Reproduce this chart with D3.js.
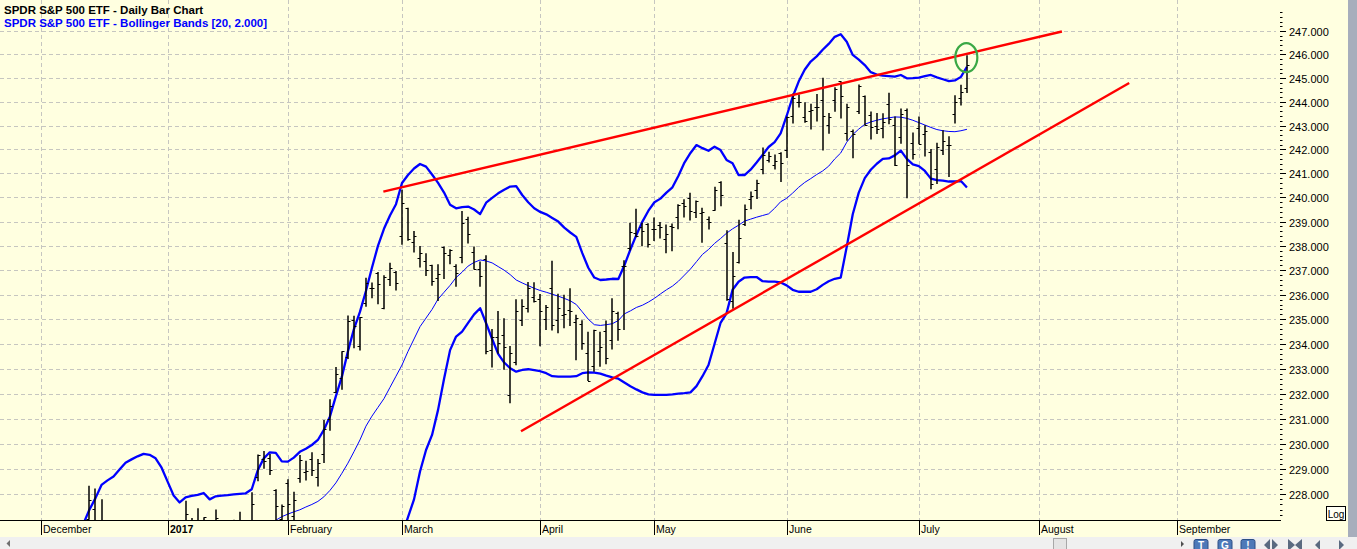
<!DOCTYPE html>
<html>
<head>
<meta charset="utf-8">
<script src="https://cdn.jsdelivr.net/npm/d3@7"></script>
<style>
  body { margin: 0; background: #f0f0f0; }
  svg { display: block; font-family: 'Liberation Sans', Arial, sans-serif; }
</style>
</head>
<body>
<div id="chart-area"></div>
<script>
// Values (SPY daily bars, 1 Dec 2016 - 14 Jul 2017)

// month labels on the date axis and the trading-day index where each month starts
let monthLabels = ['December', '2017', 'February', 'March', 'April', 'May', 'June', 'July', 'August', 'September']
let monthStart = [0, 21, 41, 60, 83, 102, 124, 146, 166, 189]

let yTicks = [228, 229, 230, 231, 232, 233, 234, 235, 236, 237, 238, 239, 240, 241, 242, 243, 244, 245, 246, 247]

let open = [
  220.73, 219.67, 220.65, 221.22, 221.52, 224.57, 225.41, 226.40, 227.02, 227.41, 226.16, 226.01, 225.25, 226.15, 226.25, 225.60, 225.43, 226.02, 226.57, 224.48, 224.73,
  225.04, 225.62, 226.27, 226.53, 226.91, 226.48, 226.36, 226.50, 226.73, 226.31, 226.54, 226.84, 226.70, 226.74, 226.40, 228.70, 229.40, 229.42, 228.17, 227.04,
  228.45, 227.16, 228.65, 228.87, 229.38, 228.69, 229.59, 231.00, 232.08, 232.63, 233.46, 234.96, 233.90, 235.65, 236.26, 236.89, 235.45, 236.63, 236.91,
  238.39, 239.56, 238.17, 237.50, 237.37, 237.20, 236.70, 237.97, 237.62, 237.18, 237.56, 239.11, 237.75, 237.03, 237.47, 233.77, 234.28, 234.38, 231.93, 233.27, 234.99, 235.47, 235.90,
  235.81, 235.00, 236.26, 234.96, 235.18, 235.36, 234.90, 234.80, 233.64, 233.11, 233.72, 234.52, 234.15, 235.25, 237.18, 237.91, 238.51, 238.77, 238.90,
  238.68, 238.84, 238.29, 238.83, 239.19, 239.75, 239.96, 239.39, 239.35, 239.09, 239.47, 240.62, 238.10, 235.73, 237.33, 238.90, 239.95, 240.32, 241.20, 241.54, 241.33, 241.84,
  241.97, 243.42, 243.99, 243.34, 243.60, 243.77, 244.08, 243.01, 244.09, 244.86, 242.68, 242.77, 243.59, 244.25, 243.45, 242.96, 242.91, 243.90, 243.04, 242.50, 243.66, 242.28,
  242.88, 242.63, 241.88, 241.17, 241.98, 242.20, 243.50, 244.14, 244.60
]
let high = [
  220.73, 220.25, 221.40, 221.74, 224.67, 225.70, 226.53, 226.96, 228.34, 228.23, 227.81, 226.08, 226.02, 226.57, 226.45, 225.74, 225.72, 226.73, 226.59, 224.89, 224.83,
  225.83, 226.75, 226.58, 227.75, 227.07, 227.45, 227.10, 226.75, 227.40, 226.78, 226.80, 227.00, 227.31, 226.81, 228.08, 229.57, 229.71, 229.59, 228.20, 227.60,
  228.59, 228.10, 229.55, 229.33, 229.66, 229.39, 230.95, 231.77, 233.07, 233.71, 235.15, 235.14, 235.09, 236.69, 236.50, 236.93, 236.79, 237.31, 236.97,
  240.32, 239.57, 238.61, 237.99, 237.70, 237.22, 237.24, 237.97, 237.86, 237.24, 239.44, 239.20, 237.97, 237.36, 237.61, 234.61, 235.34, 235.04, 233.92, 235.81, 235.81, 236.52, 236.51,
  236.03, 235.58, 237.39, 236.04, 236.00, 236.26, 235.18, 234.96, 234.49, 234.57, 234.49, 234.95, 235.85, 235.31, 237.41, 238.95, 239.53, 238.95, 238.93,
  239.17, 238.98, 238.88, 238.92, 239.72, 239.92, 240.19, 239.87, 239.57, 239.21, 240.44, 240.67, 238.64, 237.75, 239.08, 239.71, 240.24, 240.73, 242.08, 241.90, 241.79, 241.88,
  243.38, 244.35, 244.30, 243.98, 243.92, 244.33, 245.01, 243.53, 244.61, 244.87, 243.91, 242.83, 244.73, 244.26, 243.59, 243.53, 243.51, 244.38, 243.38, 243.72, 243.72, 242.71,
  243.38, 243.01, 242.02, 242.28, 242.80, 242.55, 244.27, 244.72, 245.97
]
let low = [
  219.15, 219.26, 220.42, 220.66, 221.38, 224.26, 225.37, 225.76, 227.00, 225.37, 225.89, 224.67, 225.08, 225.88, 225.77, 224.92, 225.21, 226.00, 224.27, 223.84, 222.73,
  223.88, 225.61, 225.48, 225.90, 226.42, 226.01, 225.59, 224.96, 226.69, 225.80, 225.73, 225.41, 225.97, 225.27, 226.27, 228.51, 229.01, 228.76, 226.41, 226.32,
  226.94, 226.82, 228.46, 228.54, 228.72, 228.31, 229.24, 230.52, 232.04, 232.16, 233.39, 233.83, 233.74, 235.51, 235.85, 235.61, 235.41, 236.35, 236.17,
  238.05, 238.21, 237.73, 237.11, 236.76, 236.36, 235.74, 236.64, 237.24, 236.32, 237.29, 238.10, 237.03, 236.32, 233.58, 233.05, 233.60, 232.96, 231.61, 233.14, 234.73, 235.27, 235.68,
  233.91, 234.56, 234.54, 234.43, 234.64, 234.73, 233.34, 233.77, 232.51, 232.88, 233.08, 233.18, 233.78, 234.13, 234.56, 237.81, 238.35, 237.98, 237.93,
  238.20, 238.30, 237.70, 237.78, 238.68, 239.17, 239.04, 239.15, 238.13, 238.67, 239.45, 239.63, 235.75, 235.43, 237.27, 238.82, 239.51, 239.93, 240.96, 241.45, 241.16, 240.64,
  241.64, 243.08, 243.76, 243.12, 242.83, 243.17, 241.95, 242.65, 243.58, 243.29, 242.36, 241.63, 243.48, 242.99, 242.41, 242.64, 242.47, 243.05, 241.31, 242.23, 239.96, 241.58,
  242.21, 241.70, 240.34, 240.56, 241.76, 240.85, 243.08, 243.84, 244.37
]
let close = [
  219.57, 219.68, 221.00, 221.70, 224.60, 225.15, 226.51, 226.25, 227.76, 225.88, 226.81, 225.04, 225.53, 226.40, 225.77, 225.38, 225.71, 226.27, 224.40, 224.35, 223.53,
  225.24, 226.58, 226.40, 227.21, 226.46, 226.46, 227.10, 226.53, 227.05, 226.25, 226.75, 225.91, 226.74, 226.15, 227.60, 229.57, 229.33, 228.97, 227.55, 227.53,
  227.62, 227.77, 229.34, 228.93, 228.94, 229.24, 230.60, 231.51, 232.77, 233.70, 234.92, 234.72, 235.09, 236.49, 236.28, 236.44, 236.74, 237.11, 236.47,
  239.78, 238.27, 238.42, 237.71, 237.00, 236.56, 236.86, 237.69, 237.81, 236.90, 238.95, 238.48, 237.03, 236.77, 233.73, 234.28, 234.03, 233.86, 233.62, 235.32, 235.54, 236.29, 235.74,
  235.33, 235.48, 234.78, 235.44, 235.20, 235.34, 235.06, 234.03, 232.51, 234.57, 233.87, 233.44, 235.34, 234.59, 237.17, 238.55, 238.40, 238.60, 238.08,
  238.68, 238.77, 238.48, 238.76, 239.70, 239.66, 239.44, 239.87, 239.38, 238.98, 240.30, 240.08, 235.82, 236.77, 238.31, 239.52, 240.05, 240.61, 241.76, 241.71, 241.50, 241.44,
  243.36, 244.17, 243.99, 243.21, 243.66, 243.78, 243.41, 243.36, 244.55, 244.24, 243.77, 242.64, 244.66, 243.01, 242.95, 242.84, 243.13, 243.29, 241.33, 243.49, 241.35, 241.80,
  242.21, 242.77, 240.55, 242.11, 242.37, 242.19, 243.99, 244.42, 245.56
]

// Bollinger bands [20, 2], only the part that shows above the bottom of the chart
let upperStart = 7
let upper = [
  226.85, 227.4, 227.85, 228.37, 228.55, 228.7, 228.98, 229.25, 229.38, 229.5,
  229.6, 229.56, 229.42, 229.05, 228.5, 227.95, 227.68, 227.88, 227.94, 227.98,
  228.05, 227.8, 227.92, 227.95, 227.97, 228.0, 228.02, 228.04, 228.2, 228.95,
  229.42, 229.66, 229.64, 229.3, 229.29, 229.45, 229.68, 229.8, 229.95, 230.15,
  230.55, 231.08, 231.9, 232.68, 233.7, 234.6, 235.3, 236.15, 237.1, 238.0,
  238.7, 239.25, 239.72, 240.6, 240.93, 241.2, 241.39, 241.28, 240.95, 240.6,
  240.2, 239.7, 239.55, 239.6, 239.62, 239.5, 239.31, 239.78, 239.98, 240.17,
  240.32, 240.45, 240.47, 240.1, 239.8, 239.55, 239.4, 239.3, 239.15, 239.0,
  238.75, 238.55, 238.37, 237.7, 237.1, 236.7, 236.6, 236.62, 236.65, 236.64,
  237.2, 237.85, 238.45, 239.0, 239.45, 239.8, 239.95, 240.2, 240.42, 240.9,
  241.45, 241.85, 242.18, 242.05, 241.94, 242.11, 241.97, 241.56, 241.42, 240.93,
  240.93, 241.15, 241.45, 241.77, 242.1, 242.3, 242.67, 243.4, 244.2, 244.85,
  245.35, 245.7, 245.92, 246.2, 246.45, 246.75, 246.86, 246.54, 245.98, 245.78,
  245.55, 245.25, 245.15, 245.1, 245.08, 245.06, 245.13, 244.99, 245.0, 245.02,
  245.08, 245.13, 245.03, 244.95, 244.87, 244.9, 245.05, 245.48
]
let middleStart = 39
let middle = [
  226.98, 227.12, 227.22, 227.31, 227.39, 227.5, 227.6, 227.72, 227.9, 228.15,
  228.45, 228.83, 229.23, 229.68, 230.15, 230.7, 231.1, 231.45, 231.8, 232.25,
  232.7, 233.15, 233.7, 234.2, 234.7, 235.05, 235.4, 235.82, 236.1, 236.38,
  236.7, 236.92, 237.17, 237.32, 237.42, 237.38, 237.3, 237.15, 237.0, 236.82,
  236.6, 236.48, 236.37, 236.26, 236.17, 236.1, 236.02, 235.94, 235.85, 235.75,
  235.6, 235.3, 235.0, 234.78, 234.75, 234.78, 234.82, 234.95, 235.22, 235.34,
  235.48, 235.57, 235.7, 235.85, 236.03, 236.2, 236.35, 236.55, 236.8, 237.05,
  237.35, 237.65, 237.85, 238.1, 238.3, 238.52, 238.7, 238.85, 239.02, 239.1,
  239.18, 239.25, 239.32, 239.55, 239.82, 239.96, 240.18, 240.42, 240.62, 240.78,
  240.95, 241.1, 241.3, 241.6, 241.85, 242.3, 242.62, 242.85, 243.05, 243.15,
  243.22, 243.28, 243.32, 243.36, 243.35, 243.3, 243.22, 243.12, 243.02, 242.92,
  242.83, 242.78, 242.75, 242.74, 242.78, 242.84
]
let lowerStart = 60
let lower = [
  226.4, 227.1, 227.8, 228.9, 229.75, 230.35, 231.35, 232.6, 233.75, 234.3,
  234.5, 234.85, 235.2, 235.45, 234.84, 234.2, 233.6, 233.25, 233.02, 232.88,
  232.95, 232.98, 232.94, 232.9, 232.82, 232.7, 232.68, 232.68, 232.68, 232.7,
  232.82, 232.85, 232.84, 232.8, 232.72, 232.65, 232.6, 232.45, 232.3, 232.17,
  232.05, 231.97, 231.95, 231.95, 231.95, 231.97, 232.0, 232.02, 232.05, 232.3,
  232.7, 233.15, 234.0, 234.85, 235.24, 236.2, 236.53, 236.7, 236.72, 236.72,
  236.55, 236.53, 236.53, 236.5, 236.38, 236.2, 236.12, 236.12, 236.12, 236.22,
  236.4, 236.55, 236.65, 236.7, 237.96, 239.3, 240.2, 240.8, 241.15, 241.4,
  241.6, 241.62, 241.75, 241.95, 241.6, 241.37, 241.3, 241.1, 240.78, 240.72,
  240.7, 240.66, 240.66, 240.68, 240.41
]

// hand-drawn annotations: [trading-day index, price]
let trendTop = [[56.9, 240.24], [169.8, 246.98]]
let trendBottom = [[79.8, 230.5], [181.0, 244.79]]
let circled = [153.9, 245.87]

// ---------------------------------------------------------------

let W = 1357, H = 549
let plotRight = 1277, plotBottom = 520

let svg = d3.select('#chart-area').append('svg')
  .attr('width', W)
  .attr('height', H)

// backgrounds
svg.append('rect').attr('width', 1348).attr('height', 537).attr('fill', '#ffffe0')
svg.append('rect').attr('x', 1348).attr('width', 9).attr('height', 537).attr('fill', '#a7aebc')
svg.append('rect').attr('y', 537).attr('width', W).attr('height', 12).attr('fill', '#f0f0f0')

// Scales: one trading day = ~6 px, price axis is logarithmic
let x = d3.scaleLinear().domain([0, 189]).range([41.4, 41.4 + 6.01 * 189])
let y = d3.scaleLog().domain([228, 247]).range([494.3, 31])
let px = (v) => Math.round(x(v)) + 0.5
let py = (v) => Math.round(y(v)) + 0.5

// Gridlines
let grid = svg.append('g')
  .attr('stroke', '#c6c6c0')
  .attr('stroke-dasharray', '4,3')
grid.selectAll('.hgrid').data(yTicks).enter().append('line')
  .attr('class', 'hgrid')
  .attr('x1', 0).attr('x2', 1276)
  .attr('y1', (d) => py(d)).attr('y2', (d) => py(d))
grid.selectAll('.vgrid').data(monthStart).enter().append('line')
  .attr('class', 'vgrid')
  .attr('x1', (d) => px(d)).attr('x2', (d) => px(d))
  .attr('y1', 0).attr('y2', plotBottom)

// Titles
svg.append('text')
  .attr('x', 4).attr('y', 13.5)
  .attr('font-size', '11.5px').attr('font-weight', 'bold').attr('fill', '#000')
  .text('SPDR S&P 500 ETF - Daily Bar Chart')
svg.append('text')
  .attr('x', 4).attr('y', 26.5)
  .attr('font-size', '11.5px').attr('font-weight', 'bold').attr('fill', '#0000ff')
  .text('SPDR S&P 500 ETF - Bollinger Bands [20, 2.000]')

// Clip everything drawn from data to the plot area
svg.append('clipPath').attr('id', 'plot-clip')
  .append('rect').attr('width', plotRight).attr('height', plotBottom)
let plot = svg.append('g').attr('clip-path', 'url(#plot-clip)')

// Bollinger bands
let bandLine = d3.line()
  .x((d) => x(d[0]))
  .y((d) => y(d[1]))
let band = (vals, start) => vals.map((v, k) => [start + k, v])

plot.append('path')
  .attr('fill', 'none').attr('stroke', '#0000ff').attr('stroke-width', 1)
  .attr('d', bandLine(band(middle, middleStart)))
plot.append('path')
  .attr('fill', 'none').attr('stroke', '#0000ff').attr('stroke-width', 2.3)
  .attr('stroke-linejoin', 'round')
  .attr('d', bandLine(band(upper, upperStart)))
plot.append('path')
  .attr('fill', 'none').attr('stroke', '#0000ff').attr('stroke-width', 2.3)
  .attr('stroke-linejoin', 'round')
  .attr('d', bandLine(band(lower, lowerStart)))

// OHLC bars
let ohlc = close.map((c, i) => ({ i: i, o: open[i], h: high[i], l: low[i], c: c }))
let bars = plot.append('g').attr('stroke', '#000')
  .selectAll('.bar').data(ohlc).enter().append('g')
  .attr('class', 'bar')
bars.append('line')   // high - low
  .attr('stroke-width', 1.5)
  .attr('x1', (d) => Math.round(x(d.i))).attr('x2', (d) => Math.round(x(d.i)))
  .attr('y1', (d) => y(d.h)).attr('y2', (d) => y(d.l))
bars.append('line')   // open tick
  .attr('x1', (d) => Math.round(x(d.i)) - 2.5).attr('x2', (d) => Math.round(x(d.i)))
  .attr('y1', (d) => py(d.o)).attr('y2', (d) => py(d.o))
bars.append('line')   // close tick
  .attr('x1', (d) => Math.round(x(d.i))).attr('x2', (d) => Math.round(x(d.i)) + 2.5)
  .attr('y1', (d) => py(d.c)).attr('y2', (d) => py(d.c))

// Trendlines and the circled high
plot.selectAll('.trend').data([trendTop, trendBottom]).enter().append('path')
  .attr('class', 'trend')
  .attr('fill', 'none').attr('stroke', '#ff0000').attr('stroke-width', 2.4)
  .attr('d', (d) => bandLine(d))
plot.append('ellipse')
  .attr('cx', x(circled[0])).attr('cy', y(circled[1]))
  .attr('rx', 11).attr('ry', 14.5)
  .attr('fill', 'none').attr('stroke', '#3aa845').attr('stroke-width', 2.2)

// Right price axis
let yAxisCall = d3.axisRight(y)
  .tickValues(yTicks)
  .tickSize(6)
  .tickPadding(3)
  .offset(0)
  .tickFormat(d3.format('.3f'))
let yAxis = svg.append('g')
  .attr('transform', 'translate(1280, 0)')
  .call(yAxisCall)
yAxis.select('.domain').remove()
yAxis.selectAll('.tick').attr('transform', (d) => 'translate(0,' + py(d) + ')')
yAxis.selectAll('.tick text')
  .attr('font-family', "'Liberation Sans', Arial, sans-serif")
  .attr('font-size', '11px').attr('fill', '#000').attr('dy', '0.45em')

// minor ticks every 0.2
let minor = d3.range(227.2, 247.9, 0.2).filter((v) => Math.abs(v - Math.round(v)) > 0.05)
svg.append('g').attr('stroke', '#000')
  .selectAll('line').data(minor).enter().append('line')
  .attr('x1', 1280).attr('x2', 1282.5)
  .attr('y1', (d) => py(d)).attr('y2', (d) => py(d))

// Bottom date axis
let xAxisCall = d3.axisBottom(x)
  .tickValues(monthStart)
  .tickSize(15)
  .tickPadding(0)
  .offset(0)
  .tickFormat((d, k) => monthLabels[k])
let xAxis = svg.append('g')
  .attr('transform', 'translate(0,' + plotBottom + ')')
  .call(xAxisCall)
xAxis.select('.domain').remove()
xAxis.selectAll('.tick').attr('transform', (d) => 'translate(' + px(d) + ',0)')
xAxis.selectAll('.tick text')
  .attr('font-family', "'Liberation Sans', Arial, sans-serif")
  .attr('font-size', '10.5px').attr('fill', '#000')
  .attr('text-anchor', 'start')
  .attr('x', 1.5).attr('y', 5.5).attr('dy', '0.71em')
  .attr('font-weight', (d, k) => monthLabels[k] === '2017' ? 'bold' : 'normal')
svg.append('line')
  .attr('x1', 0).attr('x2', 1281)
  .attr('y1', plotBottom + 0.5).attr('y2', plotBottom + 0.5)
  .attr('stroke', '#000')

// Log toggle box
svg.append('rect')
  .attr('x', 1326.5).attr('y', 506.5).attr('width', 19).attr('height', 14)
  .attr('fill', '#fffff4').attr('stroke', '#000')
svg.append('text')
  .attr('x', 1336).attr('y', 517.5).attr('text-anchor', 'middle')
  .attr('font-size', '10px').attr('fill', '#000')
  .text('Log')

// Scrollbar / toolbar strip
let bar = svg.append('g')
bar.append('path').attr('d', 'M10,540 L6.5,543.5 L10,547 Z').attr('fill', '#707070')
bar.append('rect')
  .attr('x', 1053.5).attr('y', 538.5).attr('width', 13).attr('height', 11)
  .attr('fill', '#e4e4e4').attr('stroke', '#a8a8a8')
bar.append('path').attr('d', 'M1181,541 L1184,544 L1181,547 Z').attr('fill', '#505050')
let icons = [[1194, 'T'], [1218, 'G'], [1241, '!']]
icons.forEach((ic) => {
  bar.append('rect')
    .attr('x', ic[0]).attr('y', 539.5).attr('width', 14).attr('height', 12).attr('rx', 2)
    .attr('fill', '#4d79b8').attr('stroke', '#2d4f86')
  bar.append('text')
    .attr('x', ic[0] + 7).attr('y', 548.5).attr('text-anchor', 'middle')
    .attr('font-size', '10px').attr('font-weight', 'bold').attr('fill', '#fff')
    .text(ic[1])
})
bar.append('path').attr('d', 'M1264,545 L1270,539 L1270,551 Z M1278,545 L1272,539 L1272,551 Z').attr('fill', '#5a6a80')
bar.append('path').attr('d', 'M1288,539 L1295,545 L1288,551 Z M1302,539 L1295,545 L1302,551 Z').attr('fill', '#5a6a80')
bar.append('path').attr('d', 'M1320,540 L1315,545 L1320,550 Z').attr('fill', '#5a6a80')
bar.append('path').attr('d', 'M1339,540 L1344,545 L1339,550 Z').attr('fill', '#5a6a80')
</script>
</body>
</html>
